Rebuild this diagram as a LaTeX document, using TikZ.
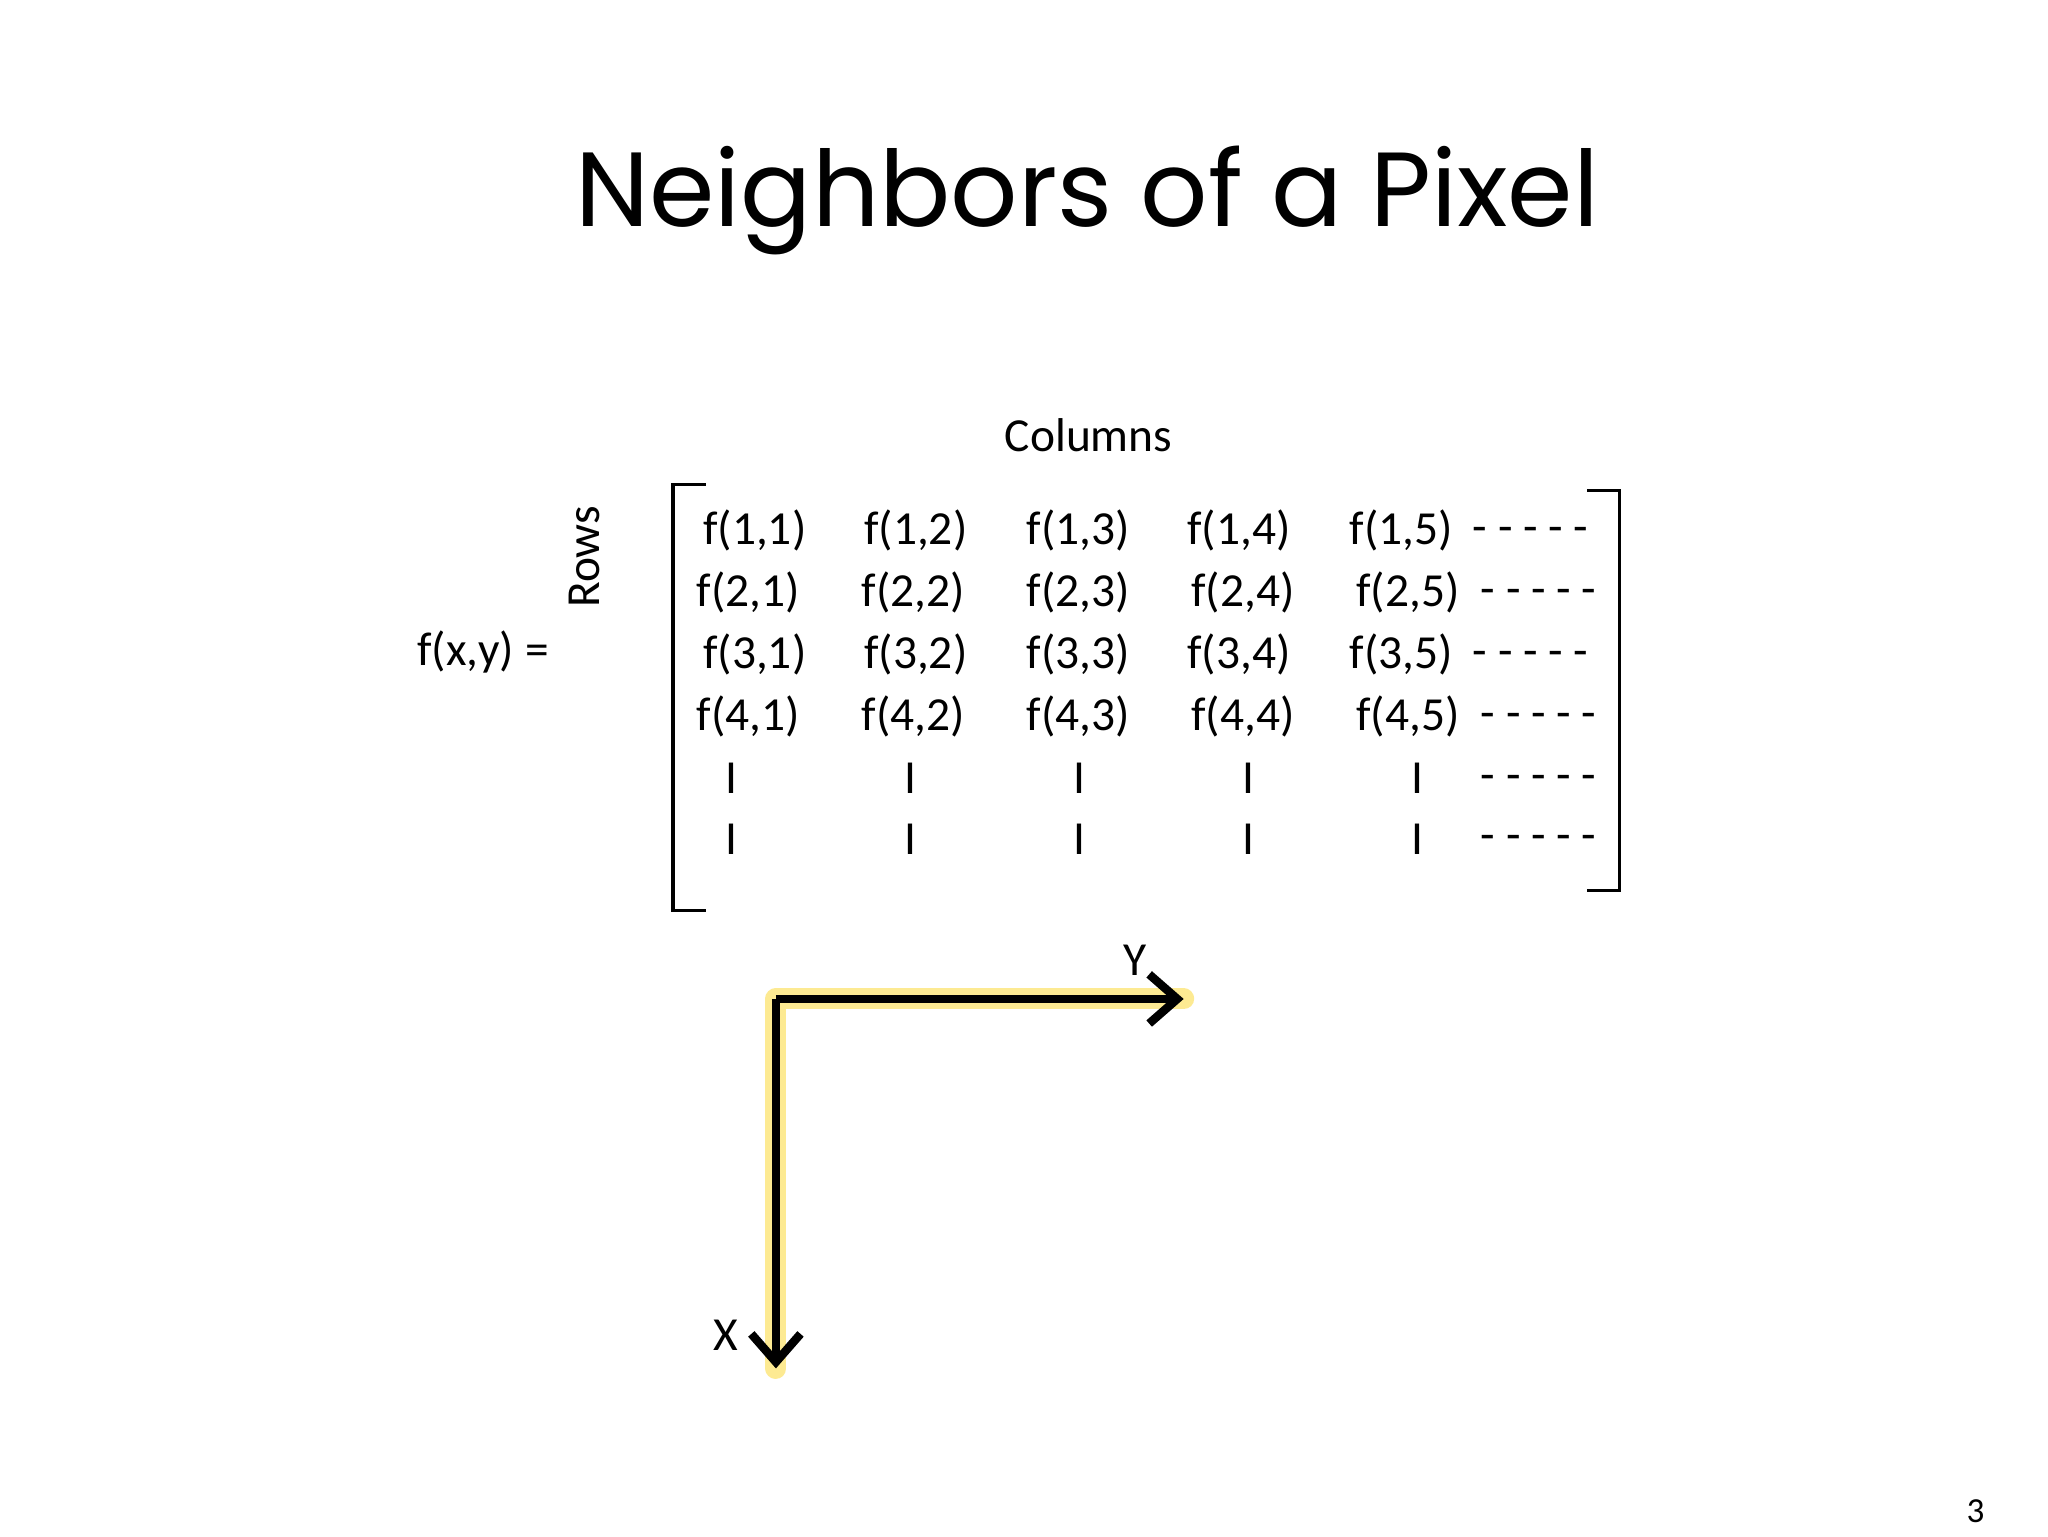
\documentclass[tikz,border=0pt]{standalone}
\usepackage{fontspec}
\setmainfont{Carlito}
\newfontfamily\titlefont{Poppins}
\usetikzlibrary{arrows.meta}
\begin{document}
\begin{tikzpicture}[x=0.013196cm,y=-0.013196cm,
  txt/.style={font=\fontsize{13.5}{16}\selectfont,inner sep=0pt},
  brk/.style={line width=0.9pt},
  glow/.style={line width=6pt,color=yellow!70!orange!60,opacity=0.7},
  ax/.style={line width=2.4pt,-{Straight Barb[length=8pt,width=14pt,line width=2.4pt]}}]
\useasboundingbox (0,0) rectangle (1552,1164);
\fill[white] (0,0) rectangle (1552,1164);
\node[inner sep=0pt,font=\titlefont\fontsize{30}{34}\selectfont] (title) at (824,152) {Neighbors of a Pixel};
\node[txt] (cols) at (825,330) {Columns};
\node[txt,rotate=90] (rows) at (443,422) {Rows};
\node[txt] (fxy) at (366,494) {f(x,y) =};
% brackets
\draw[brk] (535,367) -- (510,367) -- (510,690) -- (535,690);
\draw[brk] (1203,372) -- (1227,372) -- (1227,675) -- (1203,675);
% entries
\foreach \r/\y in {1/402,3/496}{
  \foreach \c/\x in {1/572,2/694,3/817,4/939,5/1062}{
    \node[txt] (e\r\c) at (\x,\y) {f(\r,\c)};}
  \node[txt] (d\r) at (1160,\y+3) {- - - - -};}
\foreach \r/\y in {2/449,4/543}{
  \foreach \c/\x in {1/567,2/692,3/817,4/942,5/1067}{
    \node[txt] (e\r\c) at (\x,\y) {f(\r,\c)};}
  \node[txt] (d\r) at (1166,\y+3) {- - - - -};}
\foreach \r/\y in {5/590,6/636}{
  \foreach \c/\x in {1/554,2/690,3/818,4/946,5/1074}{
    \node[txt] (v\r\c) at (\x,\y) {I};}
  \node[txt] (d\r) at (1166,\y+3) {- - - - -};}
% axes
\coordinate (o) at (588,757);
\coordinate (ye) at (897,757);
\coordinate (xe) at (588,1037);
\draw[glow,line cap=round,line join=round] (xe) -- (o) -- (ye);
\draw[ax] (o) -- (ye);
\draw[ax] (o) -- (xe);
\node[txt] (ylab) at (860,728) {Y};
\node[txt] (xlab) at (550,1012) {X};
\node[inner sep=0pt,font=\fontsize{10}{12}\selectfont] (pg) at (1497,1145) {3};
\end{tikzpicture}
\end{document}
